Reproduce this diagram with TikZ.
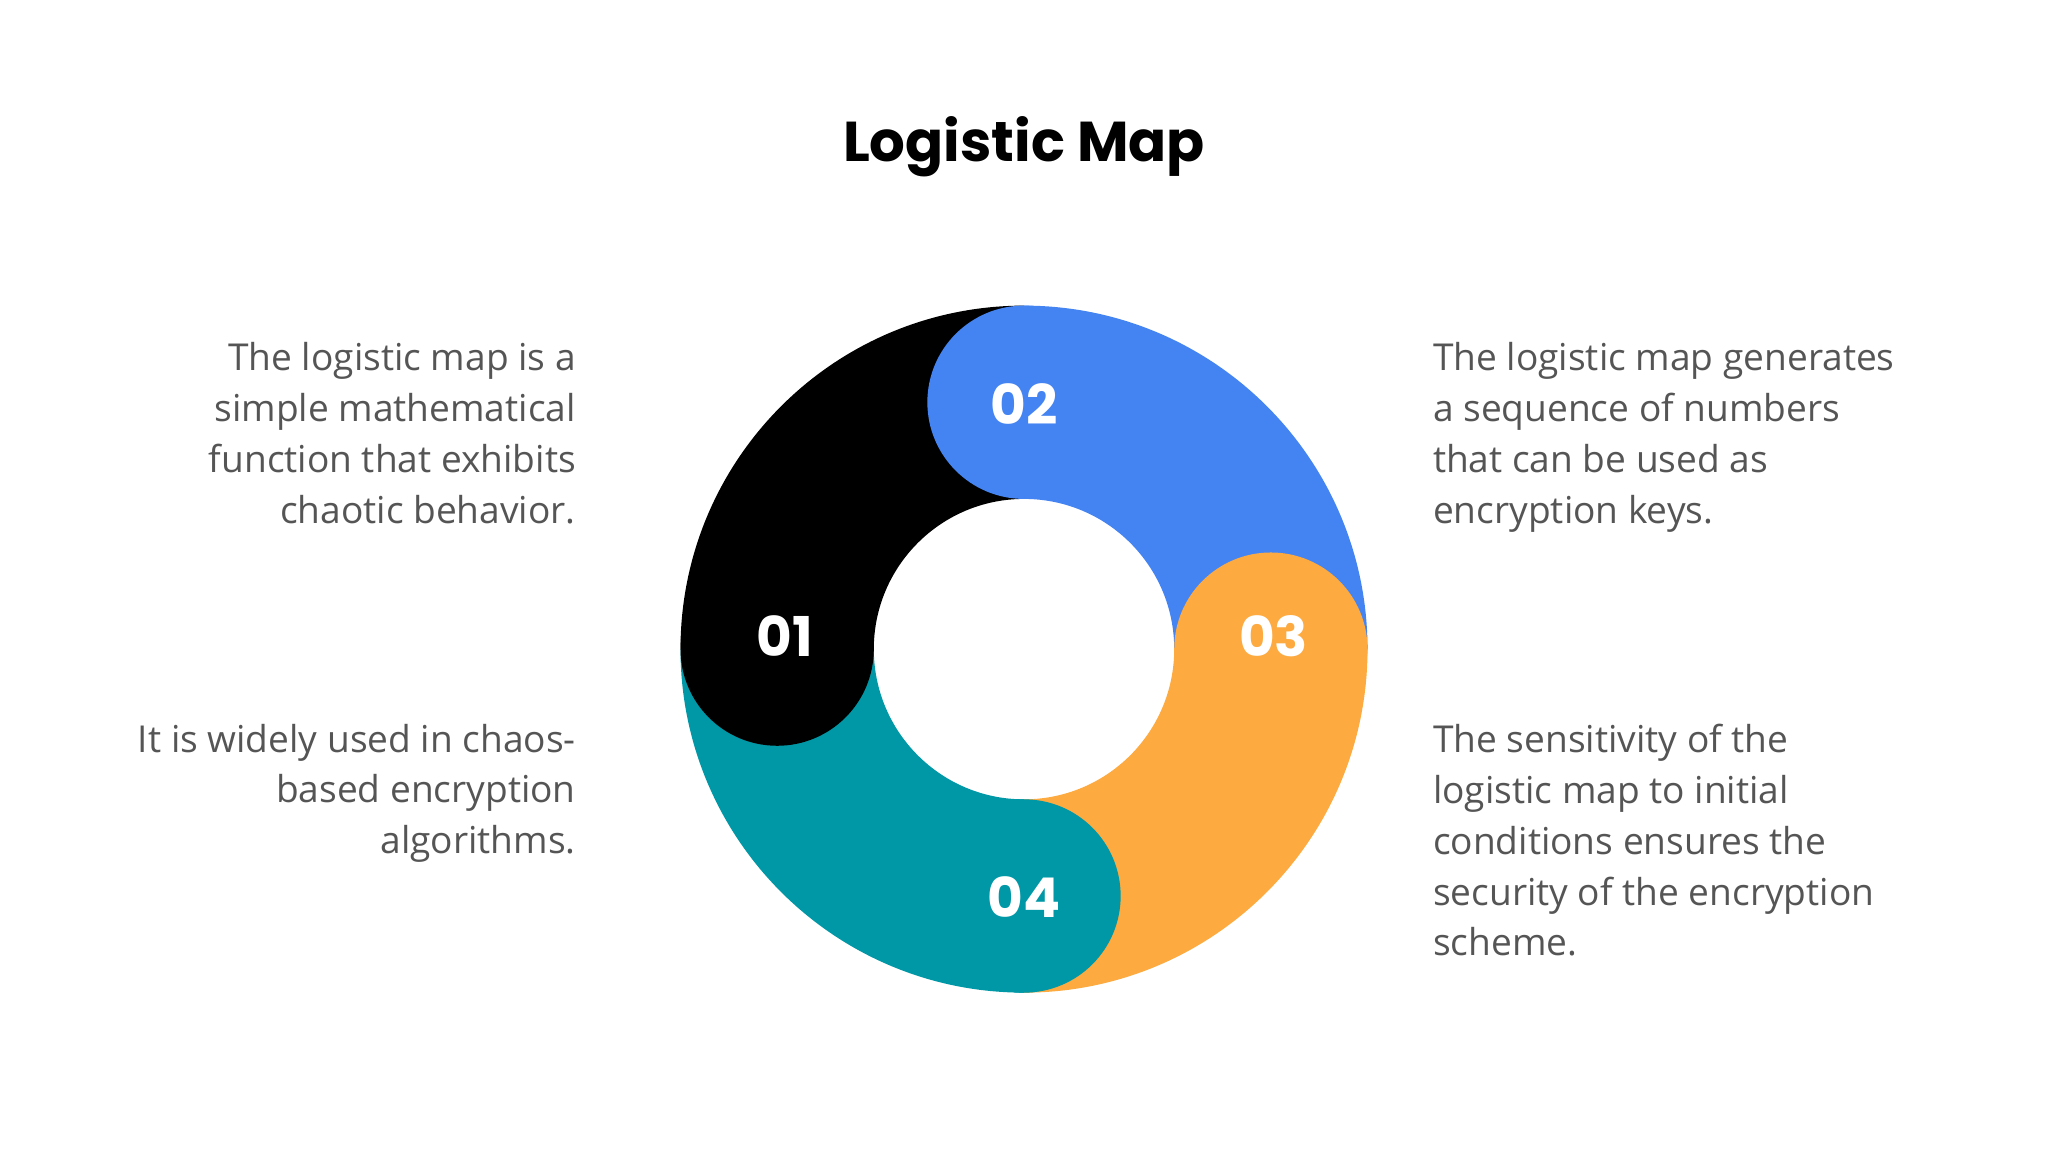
\documentclass[tikz,border=0pt]{standalone}
\usepackage{fontspec}
\usetikzlibrary{calc}
\setmainfont{Open Sans}
\newfontfamily\titlefont{Poppins}
\definecolor{cblue}{HTML}{4484F2}
\definecolor{corange}{HTML}{FDAA40}
\definecolor{cteal}{HTML}{0098A6}
\definecolor{ctext}{HTML}{555555}
\begin{document}
\begin{tikzpicture}[x=1pt,y=1pt,
  desc/.style={inner sep=0pt,text=ctext,font=\fontsize{28.4}{39}\selectfont},
  num/.style={text=white,font=\titlefont\bfseries\fontsize{42}{42}\selectfont}]
\useasboundingbox (0,0) rectangle (1568,882);
\fill[white] (0,0) rectangle (1568,882);
\coordinate (c) at (784,385);
\def\R{263}\def\r{115}\def\m{189}\def\h{74}
% teal: 270 -> 180
\fill[cteal] ($(c)+(270:\R)$) arc[start angle=270,end angle=180,radius=\R] -- ($(c)+(180:\r)$) arc[start angle=180,end angle=270,radius=\r] -- cycle;
\fill[cteal] ($(c)+(270:\m)$) circle[radius=\h];
% black: 180 -> 90
\fill[black] ($(c)+(180:\R)$) arc[start angle=180,end angle=90,radius=\R] -- ($(c)+(90:\r)$) arc[start angle=90,end angle=180,radius=\r] -- cycle;
\fill[black] ($(c)+(180:\m)$) circle[radius=\h];
% blue: 90 -> 0
\fill[cblue] ($(c)+(90:\R)$) arc[start angle=90,end angle=0,radius=\R] -- ($(c)+(0:\r)$) arc[start angle=0,end angle=90,radius=\r] -- cycle;
\fill[cblue] ($(c)+(90:\m)$) circle[radius=\h];
% orange: 0 -> -90
\fill[corange] ($(c)+(0:\R)$) arc[start angle=0,end angle=-90,radius=\R] -- ($(c)+(-90:\r)$) arc[start angle=-90,end angle=0,radius=\r] -- cycle;
\fill[corange] ($(c)+(0:\m)$) circle[radius=\h];
\fill[cteal] ($(c)+(270:\m)$) circle[radius=\h];
\node[num] (n1) at ($(c)+(180:\m)+(6,10)$) {01};
\node[num] (n2) at ($(c)+(90:\m)+(0,-1)$) {02};
\node[num] (n3) at ($(c)+(0:\m)+(2,10)$) {03};
\node[num] (n4) at ($(c)+(270:\m)+(0,-1)$) {04};
\node[font=\titlefont\bfseries\fontsize{43}{43}\selectfont] (title) at (784,770) {Logistic Map};
\node[desc,anchor=north east,align=right] (t1) at (441,620) {The logistic map is a\\simple mathematical\\function that exhibits\\chaotic behavior.};
\node[desc,anchor=north east,align=right] (t4) at (441,328) {It is widely used in chaos-\\based encryption\\algorithms.};
\node[desc,anchor=north west,align=left] (t2) at (1097,620) {The logistic map generates\\a sequence of numbers\\that can be used as\\encryption keys.};
\node[desc,anchor=north west,align=left] (t3) at (1097,328) {The sensitivity of the\\logistic map to initial\\conditions ensures the\\security of the encryption\\scheme.};
\end{tikzpicture}
\end{document}
